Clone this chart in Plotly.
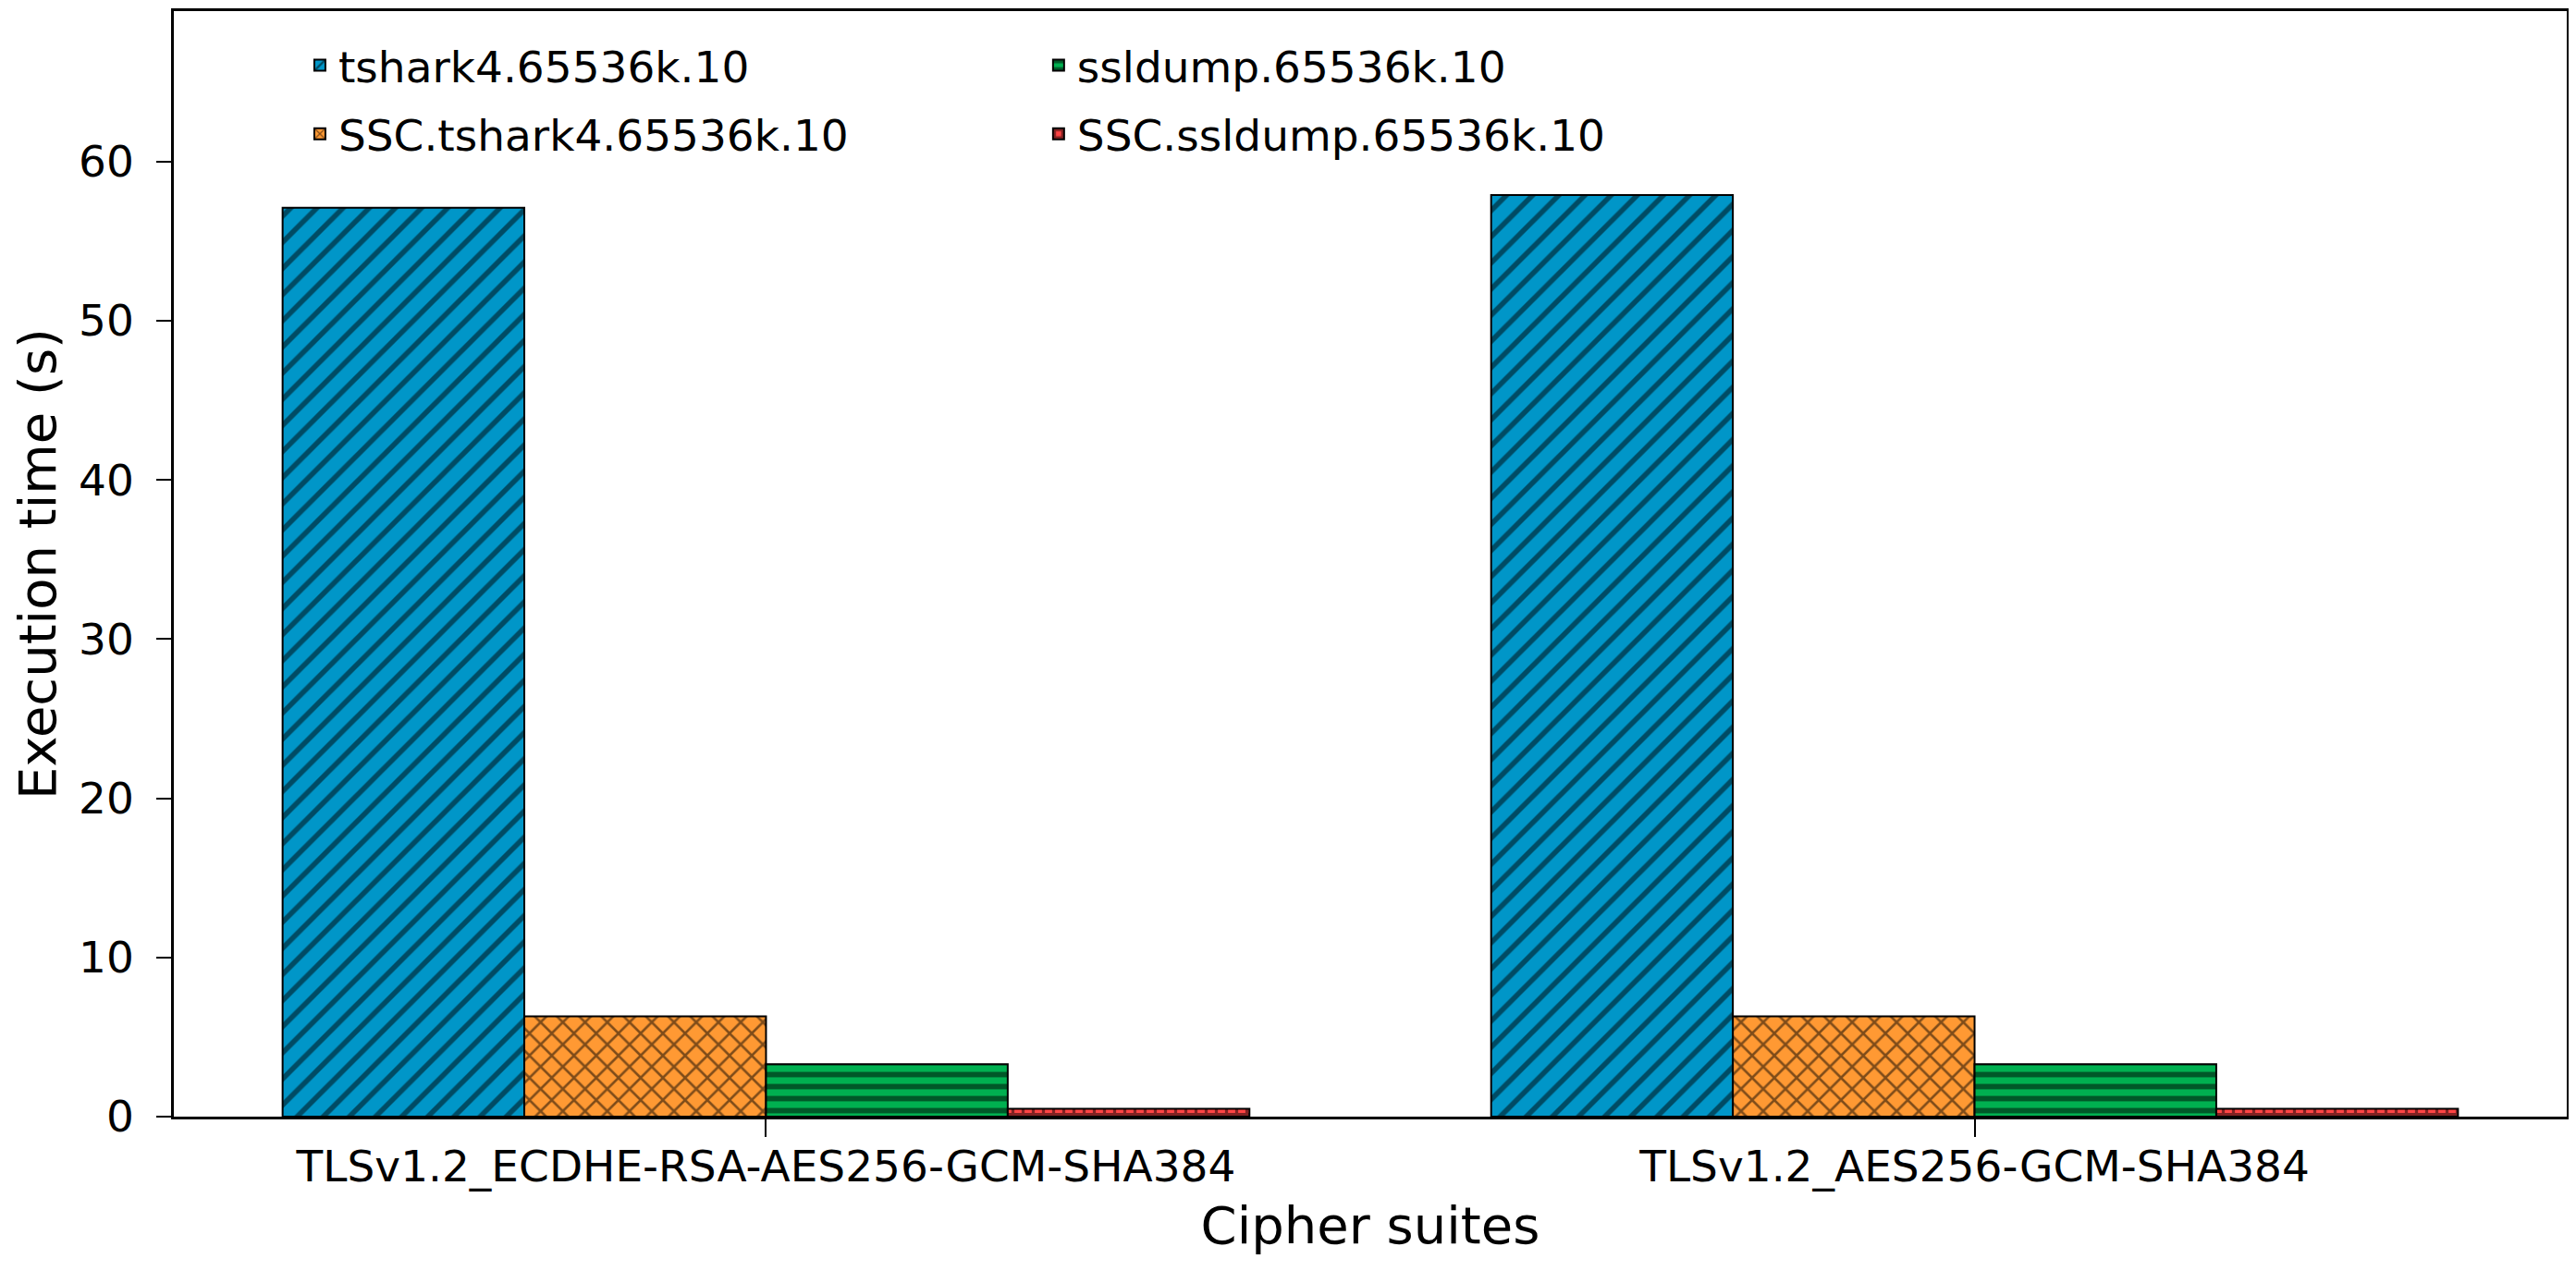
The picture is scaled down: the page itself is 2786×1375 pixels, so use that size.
import plotly.graph_objects as go

# dados
suites = ["TLSv1.2_ECDHE-RSA-AES256-GCM-SHA384", "TLSv1.2_AES256-GCM-SHA384"]
tshark4 = [57.1, 57.9]
ssc_tshark4 = [6.3, 6.3]
ssldump = [3.3, 3.3]
ssc_ssldump = [0.5, 0.5]

series = [
    # nome, valores, cor, hachura, tamanho, solidez, legenda
    ("tshark4.65536k.10", tshark4, "#0096c8", "/", 20, 0.28, "legend"),
    ("SSC.tshark4.65536k.10", ssc_tshark4, "#ff9933", "x", 17, 0.28, "legend"),
    ("ssldump.65536k.10", ssldump, "#00b050", "-", 13, 0.45, "legend2"),
    ("SSC.ssldump.65536k.10", ssc_ssldump, "#ff4444", "+", 11, 0.5, "legend2"),
]

fig = go.Figure()
for nome, vals, cor, hatch, tam, sol, leg in series:
    fig.add_trace(go.Bar(
        x=suites, y=vals, name=nome, legend=leg, legendgroup=nome,
        marker=dict(
            color=cor,
            line=dict(color="black", width=2),
            pattern=dict(shape=hatch, fgcolor="black", size=tam, solidity=sol),
        ),
    ))

fonte = dict(family="DejaVu Sans", size=47, color="black")
leg_comum = dict(
    orientation="v", yanchor="top", xanchor="left",
    bgcolor="rgba(0,0,0,0)", font=fonte, tracegroupgap=10,
)

# a página tem margem de 8px no body, compensada aqui
fig.update_layout(
    width=2778, height=1367,
    barmode="group", bargap=0.2, bargroupgap=0,
    plot_bgcolor="white", paper_bgcolor="white",
    font=fonte,
    margin=dict(l=180, r=10, t=1, b=167),
    showlegend=True,
    legend=dict(x=0.0533, y=0.982, **leg_comum),
    legend2=dict(x=0.362, y=0.982, **leg_comum),
    xaxis=dict(
        title=dict(text="Cipher suites", standoff=18),
        range=[-0.49, 1.49],
        showline=True, linecolor="black", linewidth=2.5, mirror=True,
        ticks="outside", ticklen=19, tickwidth=2, tickcolor="black",
        ticklabelstandoff=-8,
        showgrid=False, zeroline=False,
    ),
    yaxis=dict(
        title=dict(text="Execution time (s)", standoff=15),
        range=[0, 69.45], dtick=10, tick0=0,
        showline=True, linecolor="black", linewidth=2.5, mirror=True,
        ticks="outside", ticklen=16, tickwidth=2, tickcolor="black",
        ticklabelstandoff=15,
        showgrid=False, zeroline=False,
    ),
)

fig.write_html("out.html")
